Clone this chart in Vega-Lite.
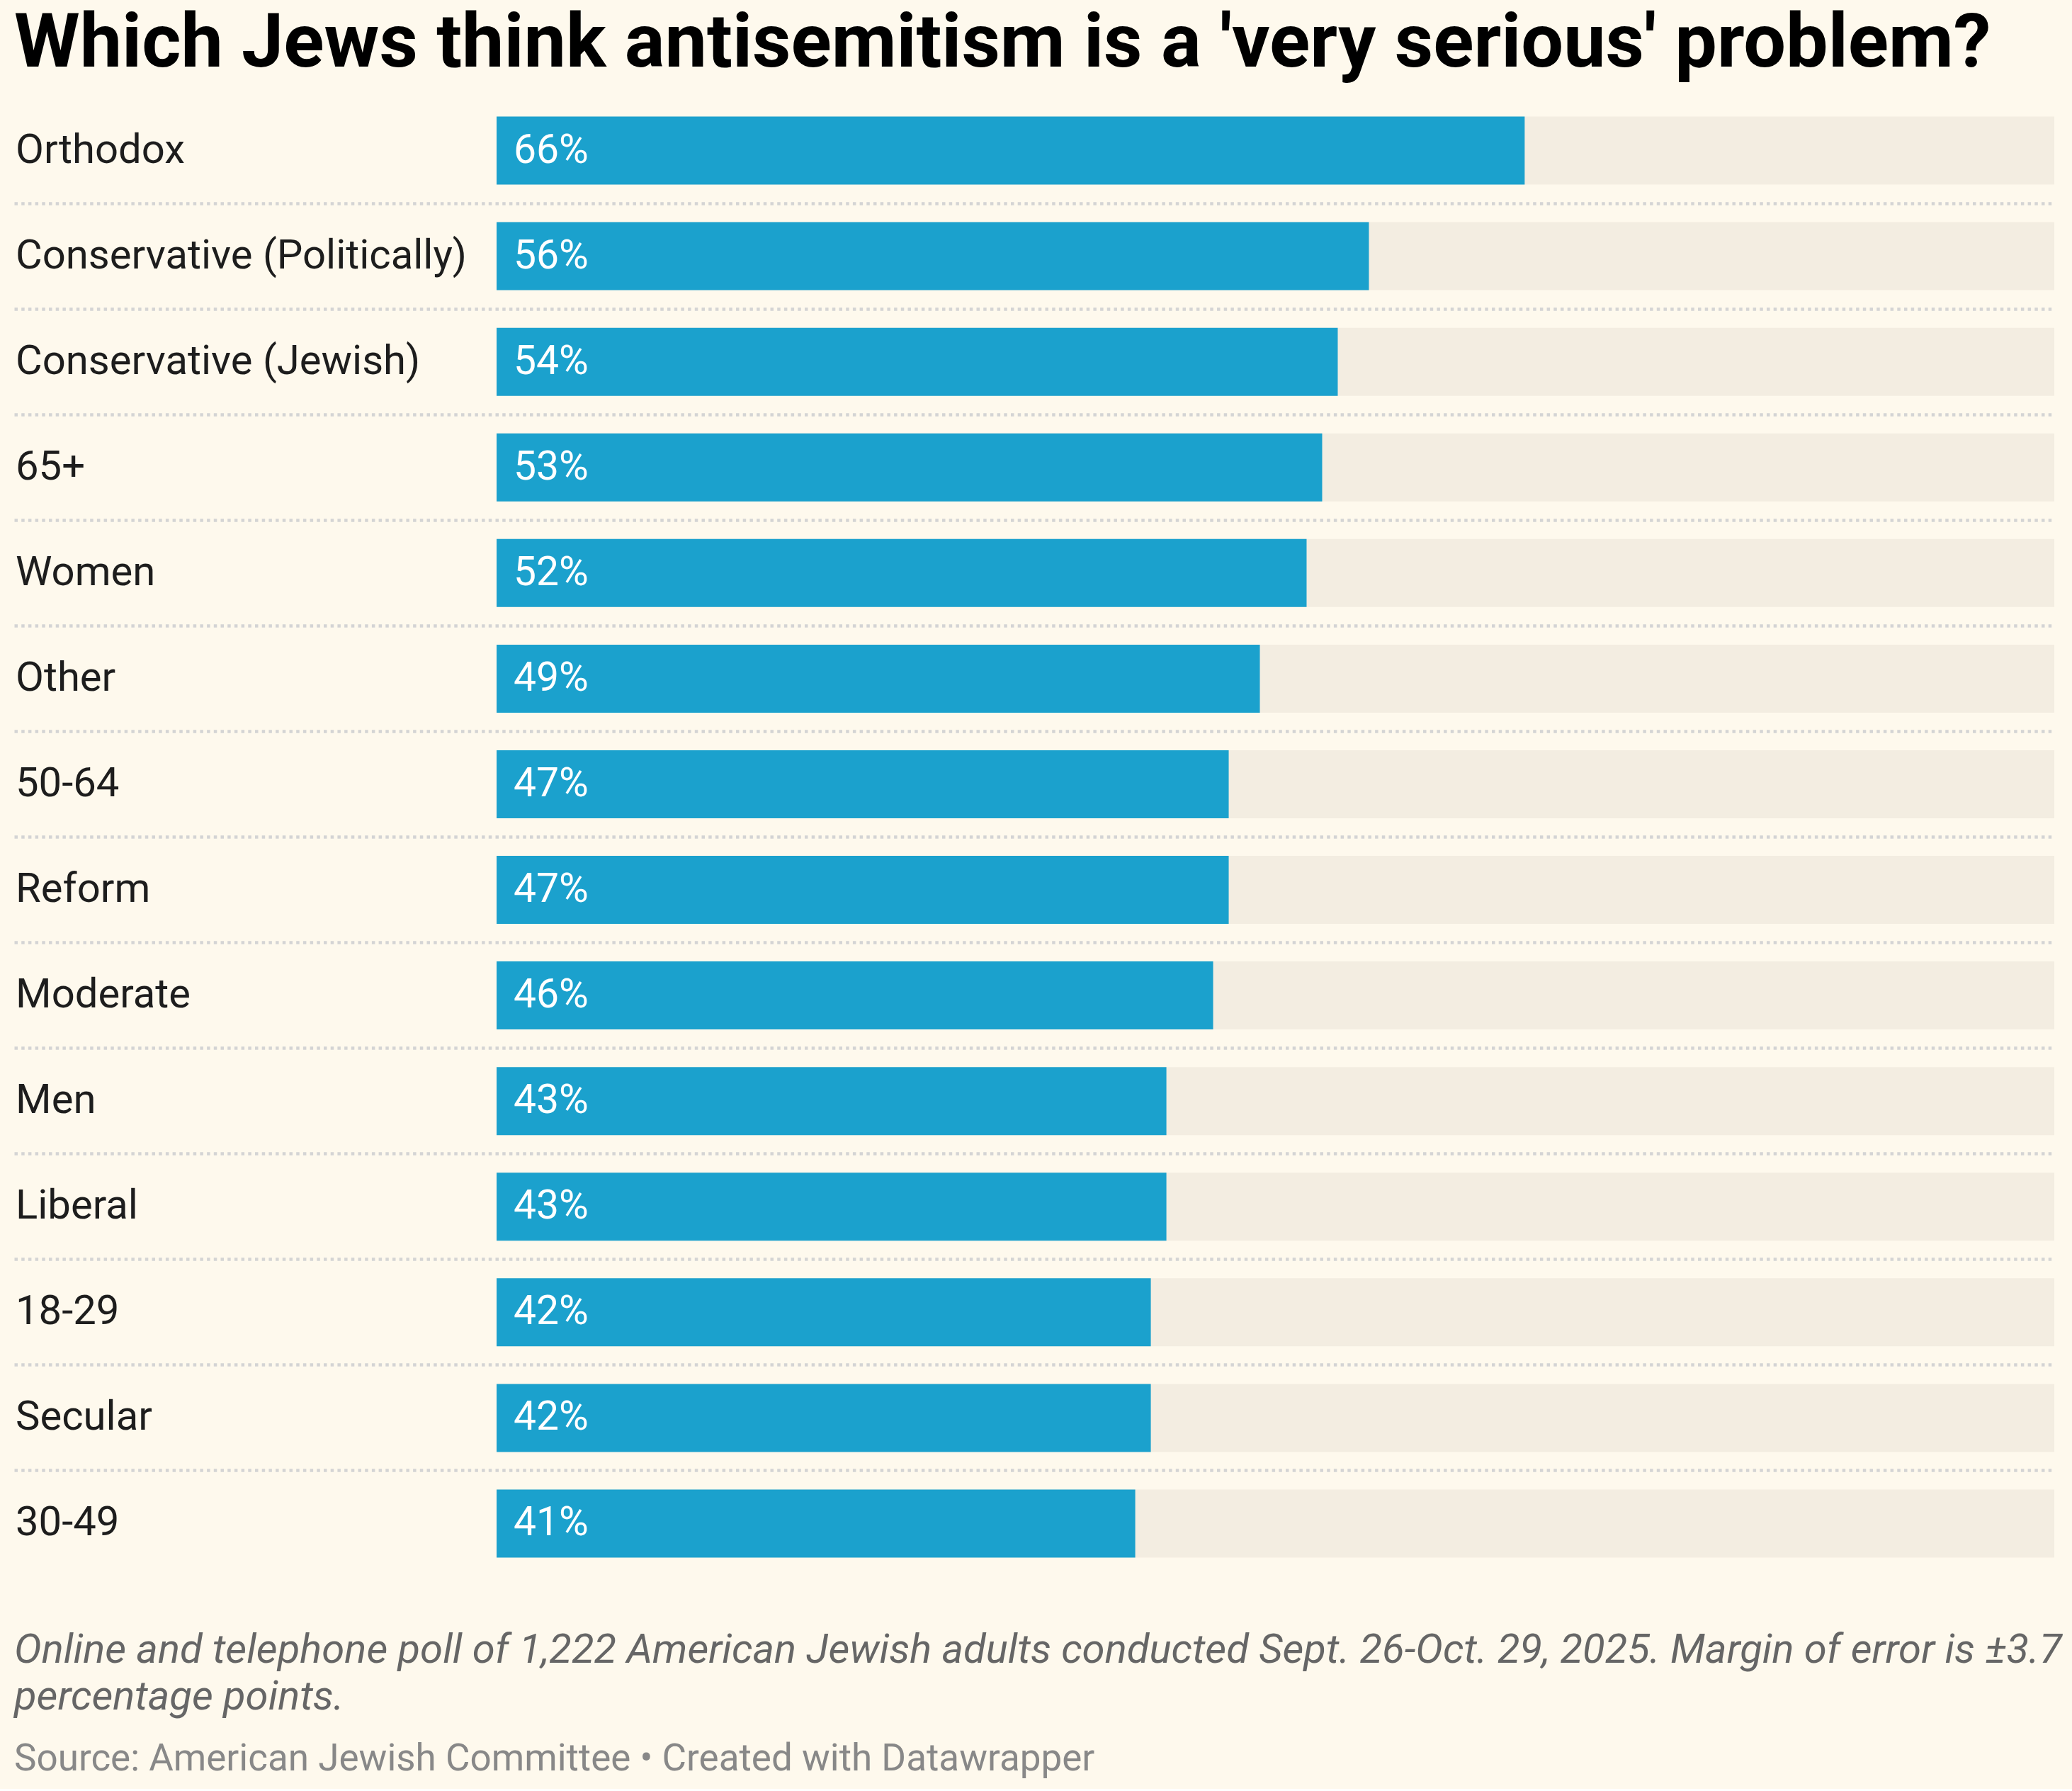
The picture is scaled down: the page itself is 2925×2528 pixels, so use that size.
{
  "$schema": "https://vega.github.io/schema/vega-lite/v6.json",
  "background": "#fef9ed",
  "padding": {"left": 20, "right": 25, "top": 9, "bottom": 15},
  "config": {"view": {"stroke": null}, "font": "Roboto"},
  "title": {
    "text": "Which Jews think antisemitism is a 'very serious' problem?",
    "anchor": "start",
    "font": "Roboto",
    "fontSize": 106,
    "fontWeight": 700,
    "color": "#000000",
    "offset": 22
  },
  "vconcat": [
    {
      "width": 2880,
      "height": 2087,
      "data": {
        "values": [
          {"group": "Orthodox", "value": 66},
          {"group": "Conservative (Politically)", "value": 56},
          {"group": "Conservative (Jewish)", "value": 54},
          {"group": "65+", "value": 53},
          {"group": "Women", "value": 52},
          {"group": "Other", "value": 49},
          {"group": "50-64", "value": 47},
          {"group": "Reform", "value": 47},
          {"group": "Moderate", "value": 46},
          {"group": "Men", "value": 43},
          {"group": "Liberal", "value": 43},
          {"group": "18-29", "value": 42},
          {"group": "Secular", "value": 42},
          {"group": "30-49", "value": 41}
        ]
      },
      "transform": [{"calculate": "datum.value + '%'", "as": "label"}],
      "title": {
        "text": [
          "Online and telephone poll of 1,222 American Jewish adults conducted Sept. 26-Oct. 29, 2025. Margin of error is ±3.7",
          "percentage points."
        ],
        "subtitle": "Source: American Jewish Committee • Created with Datawrapper",
        "orient": "bottom",
        "anchor": "start",
        "font": "Roboto",
        "fontSize": 58,
        "fontStyle": "italic",
        "fontWeight": "normal",
        "color": "#666666",
        "lineHeight": 66,
        "offset": 76,
        "subtitleFont": "Roboto",
        "subtitleFontSize": 53,
        "subtitleColor": "#888888",
        "subtitlePadding": 32
      },
      "encoding": {
        "y": {
          "field": "group",
          "type": "nominal",
          "sort": null,
          "scale": {"paddingInner": 0, "paddingOuter": 0},
          "axis": {
            "title": null,
            "labels": false,
            "ticks": false,
            "domain": false,
            "grid": true,
            "bandPosition": 1,
            "gridColor": "#d4d4d4",
            "gridWidth": 4.5,
            "gridDash": [4.5, 5.2],
            "gridOpacity": {"condition": {"test": "datum.value === '30-49'", "value": 0}, "value": 1}
          }
        }
      },
      "layer": [
        {
          "mark": {"type": "bar", "color": "#f3ede1", "height": {"band": 0.644}},
          "encoding": {
            "x": {"datum": 0, "type": "quantitative", "axis": null},
            "x2": {"datum": 100}
          }
        },
        {
          "mark": {"type": "bar", "color": "#1ba1cd", "height": {"band": 0.644}},
          "encoding": {
            "x": {
              "field": "value",
              "type": "quantitative",
              "axis": null,
              "scale": {"domain": [-30.97, 100], "nice": false, "zero": false}
            },
            "x2": {"datum": 0}
          }
        },
        {
          "mark": {"type": "text", "align": "left", "baseline": "middle", "font": "Roboto", "fontSize": 57, "color": "#ffffff", "dx": 24, "dy": 0},
          "encoding": {
            "x": {"datum": 0, "type": "quantitative", "axis": null},
            "text": {"field": "label", "type": "nominal"}
          }
        },
        {
          "mark": {"type": "text", "align": "left", "baseline": "middle", "font": "Roboto", "fontSize": 58, "color": "#1d1d1d", "dx": 2, "dy": 0},
          "encoding": {
            "x": {"datum": -30.97, "type": "quantitative", "axis": null},
            "text": {"field": "group", "type": "nominal"}
          }
        }
      ]
    }
  ]
}
